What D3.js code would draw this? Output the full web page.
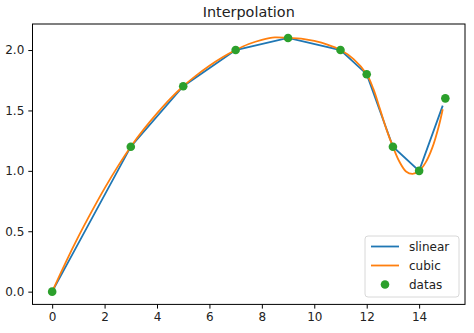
<!DOCTYPE html>
<html><head><meta charset="utf-8">
<script src="https://cdn.jsdelivr.net/npm/d3@7"></script>
<style>body{margin:0;background:#fff;}svg{display:block;font-family:"DejaVu Sans",sans-serif;}</style>
</head><body>
<svg id="c" width="474" height="333"></svg>
<script>
// data points
const dataX = [0, 3, 5, 7, 9, 11, 12, 13, 14, 15];
const dataY = [0, 1.2, 1.7, 2.0, 2.1, 2.0, 1.8, 1.2, 1.0, 1.6];
// slinear curve (evaluated up to 14.9)
const linX = [0, 3, 5, 7, 9, 11, 12, 13, 14, 14.9];
const linY = [0, 1.2, 1.7, 2.0, 2.1, 2.0, 1.8, 1.2, 1.0, 1.54];
// cubic curve
const cubX = [0, 0.5, 1, 1.5, 2, 2.5, 3, 3.5, 4, 4.5, 5, 5.5, 6, 6.5, 7, 7.5, 8, 8.5, 9, 9.5, 10, 10.5, 11, 11.5, 12, 12.25, 12.5, 12.75, 13, 13.25, 13.5, 13.75, 14, 14.25, 14.5, 14.75, 14.9];
const cubY = [0, 0.235, 0.455, 0.66, 0.855, 1.035, 1.2, 1.345, 1.475, 1.595, 1.7, 1.79, 1.87, 1.94, 2.0, 2.05, 2.085, 2.105, 2.1, 2.095, 2.075, 2.045, 2.0, 1.925, 1.8, 1.68, 1.515, 1.345, 1.2, 1.075, 0.995, 0.975, 1.0, 1.07, 1.19, 1.37, 1.51];
const xTicks = [0, 2, 4, 6, 8, 10, 12, 14];
const yTicks = [0.0, 0.5, 1.0, 1.5, 2.0];
const series = ["slinear", "cubic", "datas"];
const colors = ["#1f77b4", "#ff7f0e", "#2ca02c"];

const svg = d3.select("#c");
const L = 32.5, R = 465, T = 24, B = 304.4;
const x = d3.scaleLinear().domain([-0.75, 15.75]).range([L, R]);
const y = d3.scaleLinear().domain([-0.1055, 2.2155]).range([B, T]);

const xa = svg.append("g").attr("transform", `translate(0,${B})`)
  .call(d3.axisBottom(x).tickValues(xTicks).tickFormat(d3.format("d")).tickSize(4.2).tickPadding(4));
const ya = svg.append("g").attr("transform", `translate(${L},0)`)
  .call(d3.axisLeft(y).tickValues(yTicks).tickFormat(d3.format(".1f")).tickSize(4.2).tickPadding(4));
[xa, ya].forEach(a => {
  a.select(".domain").remove();
  a.selectAll("line").attr("stroke", "#000").attr("stroke-width", 1);
  a.selectAll("text").attr("font-size", 12).attr("fill", "#222").attr("font-family", "DejaVu Sans");
});

const line = d3.line().x(d => x(d[0])).y(d => y(d[1]));
svg.append("path").datum(linX.map((v, i) => [v, linY[i]]))
  .attr("d", line).attr("fill", "none").attr("stroke", colors[0]).attr("stroke-width", 1.8);
svg.append("path").datum(cubX.map((v, i) => [v, cubY[i]]))
  .attr("d", line.curve(d3.curveCatmullRom.alpha(0.5))).attr("fill", "none").attr("stroke", colors[1]).attr("stroke-width", 1.8);
svg.selectAll("circle.d").data(dataX.map((v, i) => [v, dataY[i]])).enter().append("circle")
  .attr("cx", d => x(d[0])).attr("cy", d => y(d[1])).attr("r", 4.3).attr("fill", colors[2]);

svg.append("rect").attr("x", L).attr("y", T).attr("width", R - L).attr("height", B - T)
  .attr("fill", "none").attr("stroke", "#000").attr("stroke-width", 1);

svg.append("text").attr("x", (L + R) / 2).attr("y", 17).attr("text-anchor", "middle")
  .attr("font-size", 14.4).attr("fill", "#222").text("Interpolation");

// legend
const lg = svg.append("g");
lg.append("rect").attr("x", 365).attr("y", 236).attr("width", 94).attr("height", 61).attr("rx", 3)
  .attr("fill", "#fff").attr("fill-opacity", 0.8).attr("stroke", "#d8d8d8");
series.forEach((s, i) => {
  const yy = 246.5 + i * 19;
  if (i < 2) {
    lg.append("line").attr("x1", 371).attr("x2", 399).attr("y1", yy).attr("y2", yy)
      .attr("stroke", colors[i]).attr("stroke-width", 1.8);
  } else {
    lg.append("circle").attr("cx", 385).attr("cy", yy).attr("r", 4.3).attr("fill", colors[i]);
  }
  lg.append("text").attr("x", 409).attr("y", yy + 4.3).attr("font-size", 12).attr("fill", "#222").text(s);
});
</script>
</body></html>
